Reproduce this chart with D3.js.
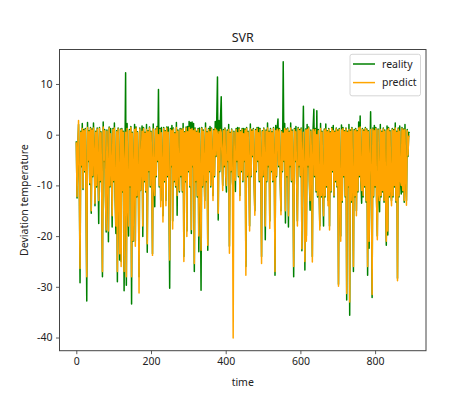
<!DOCTYPE html>
<html>
<head>
<meta charset="utf-8">
<script src="https://cdn.jsdelivr.net/npm/d3@7"></script>
<style>
	body { margin: 0; background: #fff; }
	svg text { font-family: "Noto Sans", "DejaVu Sans", sans-serif; fill: #222; }
</style>
</head>
<body>
<div id="chart"></div>
<script>
// one value every 2 time steps
const timeStep = 2;

const reality = [
	-1.3, -12.5, -3.2, 2.0, -9.3, -29.2, 0.7, -6.3, 2.2, -10.8,
	1.0, -7.3, 1.2, -11.3, -32.8, 2.4, -5.3, 0.8, -9.8, 1.4,
	-15.5, 1.1, -8.3, 2.3, -4.3, -14, 0.7, -10.3, 1.3, -6.3,
	-17.5, 1.4, -9.3, 0.6, -11.3, -28, 2.5, -5.3, 1.0, -12.3,
	-19.2, 0.9, -7.3, -21.1, 1.5, -10.3, 1.2, -6.3, -18.2, 1.2,
	-9.3, 2.3, -12.3, -19.5, 0.8, -29, 1.3, -8.3, -24.7, 1.1,
	-25, 1.2, -11.3, 0.7, -30.8, -6.3, 12.2, -29.7, 2.2, -13.3,
	-20, 1.0, -10.3, 1.6, -33.4, 0.5, -21, -7.3, 2.0, -21,
	1.5, -12.3, 0.6, -8.3, -28, 1.3, -11, -5.3, 1.7, -20.1,
	1.4, -9.3, 0.5, -11.3, 2.0, -23.2, 0.8, -7.3, 1.5, -10.3,
	0.7, -6.3, -23.5, 2.1, -9.3, -14.2, 1.1, -8.3, 1.6, -5.3,
	8.9, -10.3, 1.2, -13, 1.4, -7.3, -16, 1.4, -9.3, 0.8,
	-13, 1.5, -8.3, 1.5, -11.3, -30.3, 1.2, -6.3, 1.8, -17,
	1.3, -9.3, 0.4, -10.3, 2.4, -15.9, 0.9, -7.3, -11.3, 1.2,
	-8.3, 1.1, -11.3, 2.2, -24, 0.6, -9.3, 1.5, -19, 1.6,
	-7.3, 2.6, -10.3, 2.4, -19.5, 2.5, -6.3, 2.2, -27, 1.3,
	-9.3, 0.7, -12.3, 1.2, -23.1, 1.3, -8.3, -30.7, 1.4, -10.3,
	0.9, -6.3, -13, 2.3, -9.3, 0.6, -22.8, 1.2, -7.3, 1.6,
	-10.3, 1.3, -5.3, -12, 1.0, -8.3, 2.6, -4.3, 3.0, 11.4,
	-16.8, 2.8, -7.3, 3.0, 7.5, -4.3, -10, 1.0, -6.3, 1.3,
	-8.3, -11.3, 0.9, -5.3, 2.0, -22, 0.5, -7.3, 1.1, -9.3,
	-11, 0.7, -6.3, -11.2, 1.2, -5.3, 1.4, -8.3, 1.3, -12,
	0.8, -7.3, 1.2, -9.3, 1.2, -5.3, 1.1, -26, 1.4, -8.3,
	0.7, -6.3, -18, 2.1, -8.3, 0.9, -4.3, 1.2, -9.3, -15,
	1.0, -7.3, 1.4, -5.3, 1.4, -9.3, 1.2, -6.3, -24, 0.8,
	-8.3, 1.3, -5.3, -20.7, 0.9, -9.3, 2.3, -6.3, 0.7, -17,
	1.2, -7.3, 0.6, -9.3, 1.4, -5.3, -27.7, 1.8, -8.3, 1.3,
	3.1, -6.3, 1.2, -9.3, -15, 0.8, -7.3, 14.4, -5.3, 2.2,
	-17.4, 1.1, -8.3, 1.3, -18.2, 0.7, -6.3, 2.3, -9.3, 0.9,
	-7.3, -28, 1.2, -5.3, 1.6, -9.3, -17, 1.4, -6.3, 1.0,
	-8.3, 1.3, -22.9, -4.3, 5.6, -7.3, -26.7, 1.1, -20, 2.0,
	-6.3, 1.5, -9.3, -14.9, 0.9, -5.3, -24, 1.2, 5.0, -8.3,
	1.2, -11.3, 4.7, -12.3, 1.0, -10.3, -18, 2.2, -12.3, 0.7,
	-11.3, -18, 1.1, -12.3, 2.1, -10.3, 0.8, -13, 1.2, -18,
	0.6, -11.3, 1.4, -7.3, 1.8, -12.3, 0.7, -9.3, 1.3, -10.3,
	0.9, -29.5, 1.2, -11.3, -20, 1.9, -13.3, 1.4, -8.3, 0.8,
	-12.3, 1.3, -32.6, 0.7, -10.3, 2.0, -35.6, 0.9, -13.3, 1.4,
	-9.3, -27, 1.0, -12.3, 1.2, -15, 0.8, -11.3, 2.5, -8.3,
	3.7, -9.3, -13.5, 1.2, -12.3, 0.9, -10.3, 1.4, -13.3, 1.1,
	-27.7, 0.8, -22.4, -5.3, 4.5, -8.3, -32.1, 1.3, -12.3, 1.8,
	-10.3, 1.4, -13.3, -20, 1.1, -11.3, -15.2, 2.0, -12.3, 0.7,
	-11.3, 1.3, -13.3, 0.9, -10.3, -21.8, 1.7, -19.8, 1.4, -12.3,
	0.8, -11.3, -13, 1.2, -12.3, 1.0, -10.3, 2.3, -13.3, 0.7,
	-28.3, 1.3, -12.3, 1.7, -9.3, -11.7, 1.4, -11.3, 1.1, -13.3,
	2.0, -8.3, -13, 1.0, -4.3, 0.5, 0.3
];

const predict = [
	-1.5, -12.2, -3, 2.8, -9, -26.4, 0.5, -6, 1.2, -10.5,
	0.8, -7, 1.0, -11, -28, 1.4, -5, 0.6, -9.5, 1.2,
	-15, 0.9, -8, 1.3, -4, -13.5, 0.5, -10, 1.1, -6,
	-13, 1.2, -9, 0.4, -11, -27, 1.5, -5, 0.8, -12,
	-18.8, 0.7, -7, -19, 1.3, -10, 0.2, -6, -16, 1.0,
	-9, 1.3, -12, -18, 0.6, -27, 1.1, -8, -23.5, 0.9,
	-26, 1.0, -11, 0.5, -27, -6, 0.5, -28, 1.2, -13,
	-18, 0.8, -10, 1.4, -28, 0.3, -20.8, -7, 1.0, -22,
	1.3, -12, 0.4, -8, -31.2, 1.1, -10.9, -5, 0.7, -18,
	1.2, -9, 0.3, -11, 1.0, -21.5, 0.6, -7, 1.3, -10,
	0.5, -6, -23.8, 1.1, -9, -12, 0.9, -8, 1.4, -5,
	0, -10, 1.0, -14.2, 0.4, -7, -17.2, 1.2, -9, 0.6,
	-14, 1.3, -8, 0.5, -11, -24.7, 1.0, -6, 0.8, -18.6,
	1.1, -9, 0.2, -10, 1.4, -12, 0.7, -7, -11, 1.0,
	-8, 0.9, -11, 1.2, -25, 0.4, -9, 1.3, -20.1, 0.6,
	-7, 1.4, -10, 1.0, -18.7, 1.2, -6, 0.8, -25.4, 1.1,
	-9, 0.5, -12, 1.0, -20, 0.3, -8, -22.8, 1.2, -10,
	0.7, -6, -14.5, 1.3, -9, 0.4, -21.8, 1.0, -7, 0.6,
	-10, 1.1, -5, -13, 0.8, -8, 1.2, -4, 0.9, 0,
	-15.5, 0.6, -7, 1.0, 0.5, -4, -11, 0.8, -6, 1.1,
	-8, -10, 0.7, -5, 1.0, -23.4, 0.3, -7, 0.9, -9,
	-40.1, 0.5, -6, -9, 1.0, -5, 0.4, -8, 1.1, -13,
	0.6, -7, 1.0, -9, 0.2, -5, 0.9, -27.7, 1.2, -8,
	0.5, -6, -19, 1.1, -8, 0.7, -4, 1.0, -9, -15.9,
	0.8, -7, 1.2, -5, 0.4, -9, 1.0, -6, -25.4, 0.6,
	-8, 1.1, -5, -18, 0.7, -9, 1.3, -6, 0.5, -18.5,
	1.0, -7, 0.4, -9, 1.2, -5, -27, 0.8, -8, 1.1,
	0.5, -6, 1.0, -9, -15.8, 0.6, -7, 0.3, -5, 1.2,
	-15, 0.9, -8, 1.1, -16, 0.5, -6, 1.3, -9, 0.7,
	-7, -26, 1.0, -5, 0.6, -9, -18, 1.2, -6, 0.8,
	-8, 1.1, -22.5, -4, 0.5, -7, -25, 0.9, -21, 1.0,
	-6, 1.3, -9, -13, 0.7, -5, -25.1, 1.0, 0.6, -8,
	1.0, -11, 0, -12, 0.8, -10, -18.8, 1.2, -12, 0.5,
	-11, -16, 0.9, -12, 1.1, -10, 0.6, -14, 1.0, -18.8,
	0.4, -11, 1.2, -7, 0.8, -12, 0.5, -9, 1.1, -10,
	0.7, -29.9, 1.0, -11, -21, 0.9, -13, 1.2, -8, 0.6,
	-12, 1.1, -31.3, 0.5, -10, 1.0, -33, 0.7, -13, 1.2,
	-9, -26, 0.8, -12, 1.0, -16, 0.6, -11, 1.3, -8,
	1.5, -9, -11, 1.0, -12, 0.7, -10, 1.2, -13, 0.9,
	-26, 0.6, -21, -5, 1.0, -8, -31.5, 1.1, -12, 0.8,
	-10, 1.2, -13, -20.7, 0.9, -11, -13, 1.0, -12, 0.5,
	-11, 1.1, -13, 0.7, -10, -21, 0.9, -19, 1.2, -12,
	0.6, -11, -14, 1.0, -12, 0.8, -10, 1.3, -13, 0.5,
	-28.8, 1.1, -12, 0.7, -9, -10, 1.2, -11, 0.9, -13,
	1.0, -8, -13.9, 0.8, -4, -0.5, -0.2
];

const xTicks = [0, 200, 400, 600, 800];
const yTicks = [10, 0, -10, -20, -30, -40];

const series = [
	{ name: "reality", color: "green", values: reality },
	{ name: "predict", color: "orange", values: predict },
];

const width = 474;
const height = 395;
const plot = { left: 59.5, right: 426, top: 49.5, bottom: 350.7 };

const svg = d3
	.select("#chart")
	.append("svg")
	.attr("width", width)
	.attr("height", height);

const x = d3.scaleLinear().domain([-45, 936.3]).range([plot.left, plot.right]);
const y = d3.scaleLinear().domain([-42.6, 16.8]).range([plot.bottom, plot.top]);

const line = d3
	.line()
	.x((d, i) => x(i * timeStep))
	.y((d) => y(d));

svg
	.append("clipPath")
	.attr("id", "plot-clip")
	.append("rect")
	.attr("x", plot.left)
	.attr("y", plot.top)
	.attr("width", plot.right - plot.left)
	.attr("height", plot.bottom - plot.top);

svg
	.append("g")
	.attr("clip-path", "url(#plot-clip)")
	.selectAll("path")
	.data(series)
	.enter()
	.append("path")
	.attr("d", (s) => line(s.values))
	.attr("fill", "none")
	.attr("stroke", (s) => s.color)
	.attr("stroke-width", 1.5)
	.attr("stroke-linejoin", "round");

// axes
const xAxis = svg
	.append("g")
	.attr("transform", `translate(0,${plot.bottom})`)
	.call(d3.axisBottom(x).tickValues(xTicks).tickSize(3.5).tickPadding(3.5).tickFormat(d3.format("d")));

const yAxis = svg
	.append("g")
	.attr("transform", `translate(${plot.left},0)`)
	.call(d3.axisLeft(y).tickValues(yTicks).tickSize(3.5).tickPadding(3.5).tickFormat((d) => String(d)));

[xAxis, yAxis].forEach((g) => {
	g.select(".domain").remove();
	g.selectAll("line").attr("stroke", "#333").attr("stroke-width", 0.8);
	g.selectAll("text").style("font-size", "10.5px").attr("fill", "#222");
});

svg
	.append("rect")
	.attr("x", plot.left)
	.attr("y", plot.top)
	.attr("width", plot.right - plot.left)
	.attr("height", plot.bottom - plot.top)
	.attr("fill", "none")
	.attr("stroke", "#444")
	.attr("stroke-width", 1);

// labels
svg
	.append("text")
	.attr("x", (plot.left + plot.right) / 2)
	.attr("y", 41.5)
	.attr("text-anchor", "middle")
	.style("font-size", "12.5px")
	.text("SVR");

svg
	.append("text")
	.attr("x", (plot.left + plot.right) / 2)
	.attr("y", 385.5)
	.attr("text-anchor", "middle")
	.style("font-size", "10.5px")
	.text("time");

svg
	.append("text")
	.attr("transform", `translate(27.5,${(plot.top + plot.bottom) / 2}) rotate(-90)`)
	.attr("text-anchor", "middle")
	.style("font-size", "10.5px")
	.text("Deviation temperature");

// legend
const legend = svg.append("g").attr("transform", "translate(350,54.3)");

legend
	.append("rect")
	.attr("width", 70.5)
	.attr("height", 41.5)
	.attr("rx", 2)
	.attr("fill", "#fff")
	.attr("fill-opacity", 0.8)
	.attr("stroke", "#ccc")
	.attr("stroke-width", 0.8);

const items = legend
	.selectAll(".item")
	.data(series)
	.enter()
	.append("g")
	.attr("class", "item")
	.attr("transform", (d, i) => `translate(0,${9.7 + i * 18.6})`);

items
	.append("line")
	.attr("x1", 3)
	.attr("x2", 25)
	.attr("stroke", (d) => d.color)
	.attr("stroke-width", 1.5);

items
	.append("text")
	.attr("x", 32)
	.attr("dy", "0.35em")
	.style("font-size", "10.5px")
	.text((d) => d.name);
</script>
</body>
</html>
